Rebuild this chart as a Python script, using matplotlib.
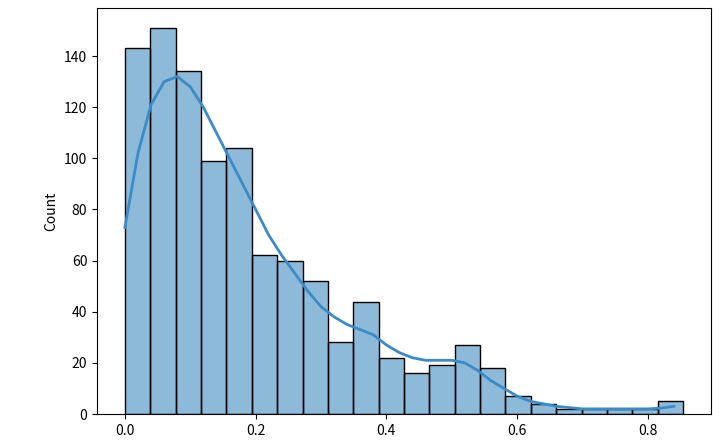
import matplotlib
matplotlib.use("Agg")
import matplotlib.pyplot as plt
import numpy as np

plt.rcParams['font.family'] = ['Noto Sans CJK JP', 'DejaVu Sans']

counts = [143, 151, 134, 99, 104, 62, 60, 52, 28, 44, 22, 16, 19, 27, 18, 7, 4, 2, 2, 2, 2, 5]
bin_start = 0.0
bin_end = 0.854
kde_x = [0.0, 0.02, 0.04, 0.06, 0.08, 0.10, 0.12, 0.14, 0.16, 0.18, 0.20, 0.22, 0.24, 0.26, 0.28, 0.30,
         0.32, 0.34, 0.36, 0.38, 0.40, 0.42, 0.44, 0.46, 0.48, 0.50, 0.52, 0.54, 0.56, 0.58, 0.60,
         0.62, 0.64, 0.66, 0.68, 0.70, 0.72, 0.74, 0.76, 0.78, 0.80, 0.82, 0.84]
kde_y = [73, 102, 121, 130, 132, 128, 120, 110, 100, 90, 80, 70, 62, 55, 48, 42,
         38, 35, 33, 31, 27, 24, 22, 21, 21, 21, 20, 17, 13, 10, 7,
         5, 4, 3, 2.5, 2, 2, 2, 2, 2, 2, 2.3, 3]

fig = plt.figure(figsize=(7.19, 4.48), dpi=100)
ax = fig.add_axes([97/719, 34/448, 614/719, 406/448])
edges = np.linspace(bin_start, bin_end, len(counts) + 1)
ax.bar(edges[:-1], counts, width=np.diff(edges), align='edge',
       color='#1f77b4', alpha=0.5, edgecolor='none')
ax.bar(edges[:-1], counts, width=np.diff(edges), align='edge',
       fill=False, edgecolor='black', linewidth=1)
ax.plot(kde_x, kde_y, color='#3a8bc8', linewidth=2)
ax.set_xlim(-0.0427, 0.8967)
ax.set_ylim(0, 158.8)
ax.set_yticks([0, 20, 40, 60, 80, 100, 120, 140])
ax.set_xticks([0.0, 0.2, 0.4, 0.6, 0.8])
ax.set_ylabel('Count')
fig.savefig('out.png', dpi=100)
